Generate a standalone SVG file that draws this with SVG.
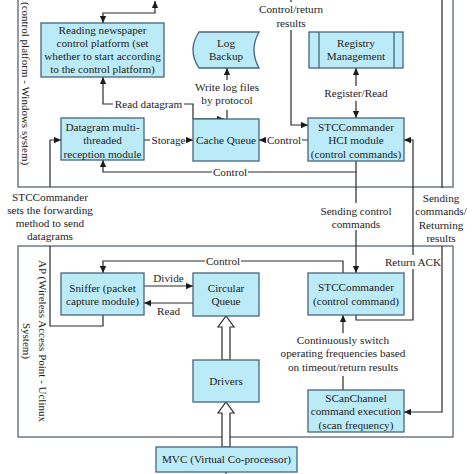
<svg xmlns="http://www.w3.org/2000/svg" width="474" height="474" viewBox="0 0 474 474">
<style>
.bg{fill:#ffffff}
.panel{fill:none;stroke:#5a6570;stroke-width:1.3}
.box{fill:#bcebf8;stroke:#46657b;stroke-width:1.3}
.conn{fill:none;stroke:#2b2b2b;stroke-width:1.2}
.hollow{fill:#ffffff;stroke:#2b2b2b;stroke-width:1.2}
text{font-family:"Liberation Serif","Times New Roman",serif;font-size:11.2px;fill:#1c1c1c;text-anchor:middle}
.side{font-size:11px}
</style>
<defs>
<marker id="ah" viewBox="0 0 10 10" refX="10" refY="5" markerWidth="7" markerHeight="7" markerUnits="userSpaceOnUse" orient="auto-start-reverse">
<path d="M0,0.5 L10,5 L0,9.5 z" fill="#1c1c1c"/>
</marker>
</defs>
<rect class="bg" x="0" y="0" width="474" height="474"/>

<g id="panel-pc">
<rect class="panel" x="18" y="-5" width="435" height="192"/>
<text class="side" transform="translate(22,0) rotate(90)" x="2" y="0" style="text-anchor:start">(control platform - Windows system)</text>
</g>
<g id="panel-ap">
<rect class="panel" x="18" y="246" width="435" height="191"/>
<text class="side" transform="translate(39,0) rotate(90)" x="341" y="0">AP (Wireless Access Point - Uclinux</text>
<text class="side" transform="translate(23,0) rotate(90)" x="341" y="0">System)</text>
</g>

<g id="connectors">
<path class="conn" d="M103,23 V13 H155 V1" marker-start="url(#ah)" marker-end="url(#ah)"/>
<path class="conn" d="M193,119 V104 H184 M113,104 H103 V77" marker-end="url(#ah)"/>
<text x="148.5" y="108">Read datagram</text>
<path class="conn" d="M193,119 H224" marker-end="url(#ah)"/>
<path class="conn" d="M144,140 H150 M187,140 H193" marker-end="url(#ah)"/>
<text x="168.5" y="144">Storage</text>
<path class="conn" d="M227,119 V110 M227,80 V68" marker-end="url(#ah)"/>
<text x="227" y="91">Write log files</text>
<text x="227" y="104">by protocol</text>
<path class="conn" d="M308,140 H302 M266,140 H259" marker-end="url(#ah)"/>
<text x="284" y="144">Control</text>
<path class="conn" d="M291,-2 V2 M291,30 V125 H308" marker-end="url(#ah)"/>
<text x="291" y="13">Control/return</text>
<text x="291" y="27">results</text>
<path class="conn" d="M356,68 V86 M356,101 V118" marker-start="url(#ah)" marker-end="url(#ah)"/>
<text x="356" y="97">Register/Read</text>
<path class="conn" d="M356,161 V172 H248 M212,172 H103 V160" marker-end="url(#ah)"/>
<text x="230" y="176">Control</text>
<path class="conn" d="M356,172 V203 M356,230 V273" marker-end="url(#ah)"/>
<text x="356" y="215">Sending control</text>
<text x="356" y="228">commands</text>
<path class="conn" d="M103,315 V326 H50 V246 M50,187 V140 H61" marker-end="url(#ah)"/>
<text x="50" y="201">STCCommander</text>
<text x="50" y="214">sets the forwarding</text>
<text x="50" y="227">method to send</text>
<text x="50" y="240">datagrams</text>
<path class="conn" d="M356,315 V320 H413 V269 M413,255 V140 H404" marker-end="url(#ah)"/>
<text x="413" y="266">Return ACK</text>
<path class="conn" d="M442,-2 V188 M442,246 V412 H404" marker-end="url(#ah)"/>
<text x="441" y="202">Sending</text>
<text x="441" y="215">commands/</text>
<text x="441" y="229">Returning</text>
<text x="441" y="242">results</text>
<path class="conn" d="M343,273 V261 H241 M205,261 H103 V273" marker-end="url(#ah)"/>
<text x="223" y="265">Control</text>
<path class="conn" d="M144,286 H193" marker-end="url(#ah)"/>
<text x="168.5" y="282">Divide</text>
<path class="conn" d="M193,303 H144" marker-end="url(#ah)"/>
<text x="168.5" y="315">Read</text>
<path class="conn" d="M343,390 V376 M343,333 V315" marker-end="url(#ah)"/>
<text x="343" y="344">Continuously switch</text>
<text x="343" y="357">operating frequencies based</text>
<text x="343" y="371">on timeout/return results</text>
<polygon class="hollow" points="222,360 222,327 218,327 226,316 234,327 230,327 230,360"/>
<polygon class="hollow" points="222,447 222,413 218,413 226,402 234,413 230,413 230,447"/>
<path class="conn" d="M226,472 V476"/>
</g>

<g id="reading">
<rect class="box" x="41" y="23" width="123" height="54"/>
<text x="102.5" y="33.5">Reading newspaper</text>
<text x="102.5" y="47">control platform (set</text>
<text x="102.5" y="60">whether to start according</text>
<text x="102.5" y="73">to the control platform)</text>
</g>
<g id="log-backup">
<path class="box" d="M199,32 H259 Q249,50 259,68 H199 Q187,50 199,32 Z"/>
<text x="226" y="47">Log</text>
<text x="226" y="60">Backup</text>
</g>
<g id="registry">
<rect class="box" x="309" y="32" width="94" height="36"/>
<path class="box" d="M319,32 V68 M394,32 V68" style="fill:none"/>
<text x="356" y="47">Registry</text>
<text x="356" y="60">Management</text>
</g>
<g id="datagram">
<rect class="box" x="61" y="118" width="83" height="42"/>
<text x="102.5" y="130.5">Datagram multi-</text>
<text x="102.5" y="144">threaded</text>
<text x="102.5" y="157.5">reception module</text>
</g>
<g id="cache-queue">
<rect class="box" x="193" y="119" width="66" height="42"/>
<text x="226" y="144">Cache Queue</text>
</g>
<g id="hci">
<rect class="box" x="308" y="118" width="96" height="43"/>
<text x="356" y="131">STCCommander</text>
<text x="356" y="144">HCI module</text>
<text x="356" y="158">(control commands)</text>
</g>
<g id="sniffer">
<rect class="box" x="61" y="273" width="83" height="42"/>
<text x="102.5" y="292">Sniffer (packet</text>
<text x="102.5" y="305">capture module)</text>
</g>
<g id="circular-queue">
<rect class="box" x="193" y="273" width="66" height="43"/>
<text x="226" y="292">Circular</text>
<text x="226" y="305">Queue</text>
</g>
<g id="stc-command">
<rect class="box" x="308" y="273" width="96" height="42"/>
<text x="356" y="291">STCCommander</text>
<text x="356" y="305">(control command)</text>
</g>
<g id="drivers">
<rect class="box" x="193" y="360" width="66" height="42"/>
<text x="226" y="385">Drivers</text>
</g>
<g id="scanchannel">
<rect class="box" x="308" y="390" width="96" height="42"/>
<text x="356" y="402">SCanChannel</text>
<text x="356" y="415">command execution</text>
<text x="356" y="429">(scan frequency)</text>
</g>
<g id="mvc">
<rect class="box" x="156" y="447" width="141" height="25"/>
<text x="226.5" y="463">MVC (Virtual Co-processor)</text>
</g>
</svg>
